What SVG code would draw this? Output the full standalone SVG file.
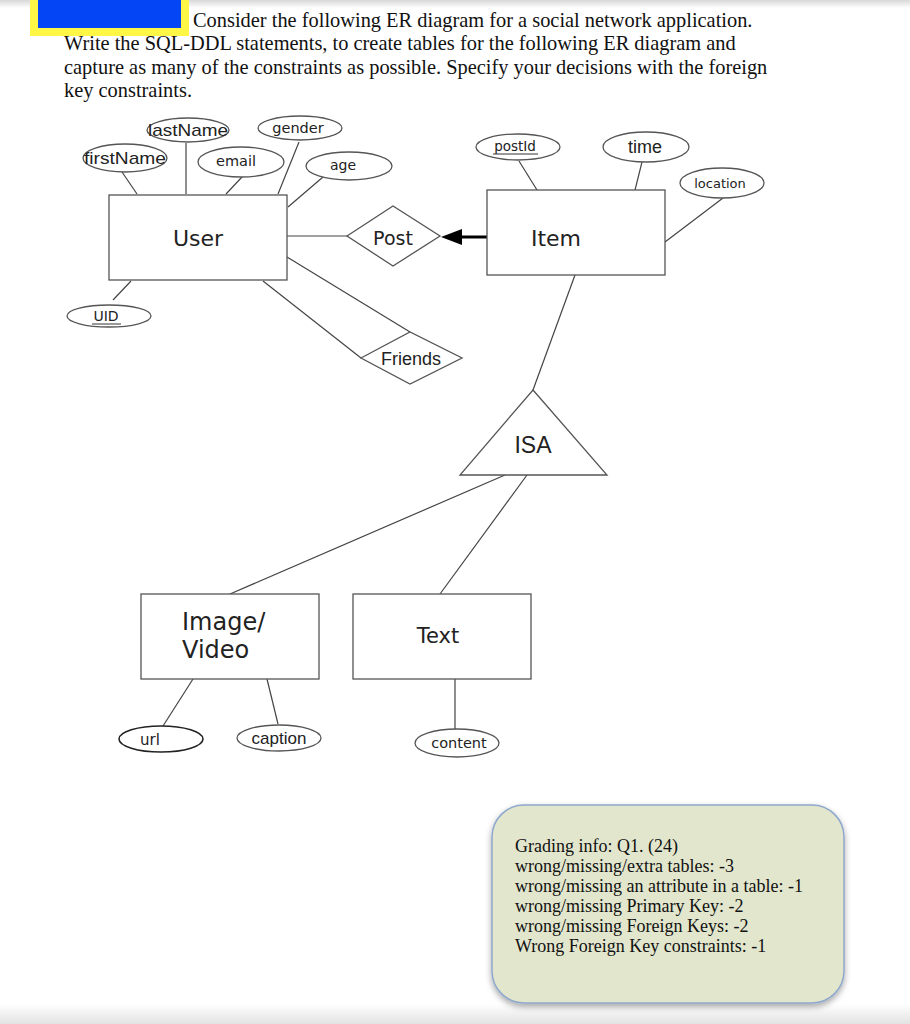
<svg xmlns="http://www.w3.org/2000/svg" width="910" height="1024" viewBox="0 0 910 1024">
<defs>
<style>
.ln{stroke:#444;stroke-width:1.2;fill:none}
.sh{fill:#fff;stroke:#555;stroke-width:1.3}
.dv{font-family:"DejaVu Sans",sans-serif;fill:#222}
.ar{font-family:"Liberation Sans",Arial,sans-serif;fill:#222}
.tt{font-family:"Liberation Serif","Times New Roman",serif;font-size:20.4px;fill:#111}
.gr{font-family:"Liberation Serif",Cambria,serif;font-size:18px;fill:#111}
</style>
<linearGradient id="topg" x1="0" y1="0" x2="0" y2="1"><stop offset="0" stop-color="#d8d8d8"/><stop offset="1" stop-color="#fff"/></linearGradient>
<linearGradient id="botg" x1="0" y1="0" x2="0" y2="1"><stop offset="0" stop-color="#fff"/><stop offset="1" stop-color="#e2e2e2"/></linearGradient>
<filter id="shd" x="-10%" y="-10%" width="120%" height="130%"><feDropShadow dx="0" dy="3" stdDeviation="3" flood-color="#000" flood-opacity="0.35"/></filter>
</defs>
<rect x="0" y="0" width="910" height="1024" fill="#fff"/>
<rect x="0" y="0" width="910" height="8" fill="url(#topg)"/>
<rect x="0" y="1004" width="910" height="20" fill="url(#botg)"/>

<g id="header">
<rect x="30" y="0" width="159" height="36" fill="#fff645"/>
<rect x="38" y="0" width="143" height="28" fill="#0445f5"/>
<text class="tt" x="193" y="27">Consider the following ER diagram for a social network application.</text>
<text class="tt" x="64" y="50">Write the SQL-DDL statements, to create tables for the following ER diagram and</text>
<text class="tt" x="64" y="74">capture as many of the constraints as possible. Specify your decisions with the foreign</text>
<text class="tt" x="64" y="97">key constraints.</text>
</g>

<g id="connectors">
<line class="ln" x1="186" y1="143" x2="186" y2="194"/>
<line class="ln" x1="299" y1="142" x2="278" y2="194"/>
<line class="ln" x1="122" y1="172" x2="137" y2="194"/>
<line class="ln" x1="242" y1="177" x2="226" y2="194"/>
<line class="ln" x1="323" y1="177" x2="288" y2="207"/>
<line class="ln" x1="113" y1="300" x2="131" y2="281"/>
<line class="ln" x1="287" y1="236" x2="347" y2="236"/>
<line class="ln" x1="287" y1="257" x2="410" y2="332"/>
<line class="ln" x1="263" y1="281" x2="361" y2="358"/>
<line x1="487" y1="237" x2="455" y2="237" stroke="#000" stroke-width="3"/>
<polygon points="441,237 462,229 462,245" fill="#000"/>
<line class="ln" x1="519" y1="161" x2="537" y2="190"/>
<line class="ln" x1="642" y1="162" x2="635" y2="190"/>
<line class="ln" x1="723" y1="198" x2="665" y2="242"/>
<line class="ln" x1="575" y1="275" x2="533" y2="390"/>
<line class="ln" x1="505" y1="475" x2="230" y2="594"/>
<line class="ln" x1="527" y1="475" x2="440" y2="594"/>
<line class="ln" x1="193" y1="679" x2="163" y2="726"/>
<line class="ln" x1="267" y1="679" x2="278" y2="724"/>
<line class="ln" x1="455" y1="679" x2="455" y2="729"/>
</g>

<g id="User"><rect class="sh" x="109" y="195" width="178" height="85"/><text class="dv" x="198" y="246" font-size="22" text-anchor="middle">User</text></g>
<g id="Item"><rect class="sh" x="487" y="190" width="178" height="85"/><text class="dv" x="556" y="246" font-size="22" text-anchor="middle">Item</text></g>
<g id="Post"><polygon class="sh" points="347,236 393,206 440,236 393,266"/><text class="dv" x="393" y="245" font-size="19" text-anchor="middle">Post</text></g>
<g id="Friends"><polygon class="sh" points="361,358 410,332 462,358 410,384"/><text class="ar" x="411" y="365" font-size="18" text-anchor="middle">Friends</text></g>
<g id="ISA"><polygon class="sh" points="533,390 607,475 460,475"/><text class="ar" x="533" y="453" font-size="23" text-anchor="middle">ISA</text></g>
<g id="ImageVideo"><rect class="sh" x="141" y="594" width="178" height="85"/><text class="dv" x="182" y="630" font-size="24">Image/</text><text class="dv" x="182" y="658" font-size="24">Video</text></g>
<g id="Text"><rect class="sh" x="353" y="594" width="178" height="85"/><text class="dv" x="438" y="643" font-size="21" text-anchor="middle">Text</text></g>

<g id="lastName"><ellipse class="sh" cx="188" cy="130" rx="41" ry="12"/><text class="ar" x="188" y="136" font-size="17" text-anchor="middle" textLength="80" lengthAdjust="spacingAndGlyphs">lastName</text></g>
<g id="gender"><ellipse class="sh" cx="300" cy="128" rx="42" ry="12"/><text class="dv" x="298" y="133" font-size="14.5" text-anchor="middle">gender</text></g>
<g id="firstName"><ellipse class="sh" cx="125" cy="158" rx="42" ry="14"/><text class="ar" x="125" y="164" font-size="17" text-anchor="middle" textLength="82" lengthAdjust="spacingAndGlyphs">firstName</text></g>
<g id="email"><ellipse class="sh" cx="241" cy="162" rx="43" ry="15"/><text class="dv" x="236" y="166" font-size="14.5" text-anchor="middle">email</text></g>
<g id="age"><ellipse class="sh" cx="349" cy="166" rx="43" ry="14"/><text class="dv" x="343" y="170" font-size="14" text-anchor="middle">age</text></g>
<g id="UID"><ellipse class="sh" cx="109" cy="316" rx="42" ry="11"/><text class="dv" x="106" y="321" font-size="14" text-anchor="middle">UID</text><line x1="92" y1="324" x2="121" y2="324" stroke="#333" stroke-width="1"/></g>
<g id="postId"><ellipse class="sh" cx="518" cy="147" rx="42" ry="13"/><text class="dv" x="515" y="151" font-size="13.5" text-anchor="middle">postId</text><line x1="493" y1="154" x2="538" y2="154" stroke="#333" stroke-width="1"/></g>
<g id="time"><ellipse class="sh" cx="646" cy="147" rx="43" ry="15"/><text class="ar" x="645" y="153" font-size="18" text-anchor="middle">time</text></g>
<g id="location"><ellipse class="sh" cx="722" cy="183" rx="42" ry="15"/><text class="dv" x="720" y="188" font-size="13" text-anchor="middle">location</text></g>
<g id="url"><ellipse cx="161" cy="739" rx="42" ry="13" fill="#fff" stroke="#222" stroke-width="1.6"/><text class="dv" x="150" y="745" font-size="15" text-anchor="middle">url</text></g>
<g id="caption"><ellipse class="sh" cx="279" cy="738" rx="42" ry="13"/><text class="ar" x="279" y="744" font-size="17" text-anchor="middle">caption</text></g>
<g id="content"><ellipse class="sh" cx="457" cy="743" rx="42" ry="14"/><text class="dv" x="459" y="748" font-size="14.5" text-anchor="middle">content</text></g>

<g id="grading">
<rect x="492" y="805" width="352" height="198" rx="32" fill="#e2e6cd" stroke="#8ea7cc" stroke-width="1.5" filter="url(#shd)"/>
<text class="gr" x="515" y="852">Grading info: Q1. (24)</text>
<text class="gr" x="515" y="872">wrong/missing/extra tables: -3</text>
<text class="gr" x="515" y="892">wrong/missing an attribute in a table: -1</text>
<text class="gr" x="515" y="912">wrong/missing Primary Key: -2</text>
<text class="gr" x="515" y="932">wrong/missing  Foreign Keys: -2</text>
<text class="gr" x="515" y="952">Wrong Foreign Key constraints: -1</text>
</g>
</svg>
